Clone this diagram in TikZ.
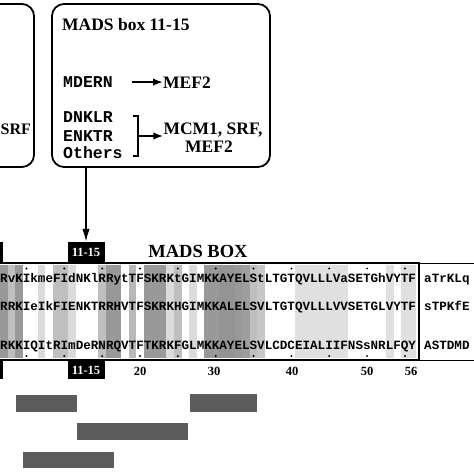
\documentclass[tikz,border=0pt]{standalone}
\usepackage{fontspec}
\setmainfont{Liberation Serif}
\setmonofont{Liberation Mono}
\usetikzlibrary{arrows.meta}
\begin{document}
\begin{tikzpicture}[x=1pt,y=-1pt,
  roundbox/.style={draw, line width=1.8pt, rounded corners=12pt, inner sep=0pt},
  titlefont/.style={font=\fontsize{17.5}{18}\selectfont\bfseries, inner sep=0pt},
  monolabel/.style={font=\fontsize{16.5}{17}\selectfont\ttfamily\bfseries, inner sep=0pt, anchor=base west},
  seqrow/.style={font=\fontsize{12.6}{13}\selectfont\ttfamily\bfseries, inner sep=0pt, anchor=base west},
  blackbox/.style={fill=black, text=white, font=\fontsize{12.5}{12.5}\selectfont\bfseries, inner sep=0pt, minimum width=37pt},
  numlabel/.style={font=\fontsize{12.5}{13}\selectfont\bfseries, inner sep=0pt},
  arr/.style={line width=1.8pt, -{Latex[length=10pt,width=7.5pt]}},
  bar/.style={fill=black!64}]
\useasboundingbox (0,0) rectangle (474,474);
\clip (0,0) rectangle (474,474);
% top boxes
\node[roundbox, minimum width=80pt, minimum height=163pt] (leftbox) at (-6,85.5) {};
\node[font=\fontsize{16}{17}\selectfont\bfseries, inner sep=0pt, anchor=base west] (srf) at (0.5,134) {SRF};
\node[roundbox, minimum width=218pt, minimum height=163pt] (mainbox) at (161,85.5) {};
\node[titlefont, anchor=base west] (title) at (62,30.5) {MADS box 11-15};
\node[monolabel] (mdern) at (63,87.5) {MDERN};
\node[titlefont, anchor=base west] (mefA) at (163,88) {MEF2};
\node[monolabel] (dnklr) at (63,122.5) {DNKLR};
\node[monolabel] (enktr) at (63,141) {ENKTR};
\node[monolabel] (others) at (63,158.5) {Others};
\node[titlefont, anchor=base] (mcmA) at (213,134) {MCM1, SRF,};
\node[titlefont, anchor=base] (mcmB) at (209,152.5) {MEF2};
\draw[arr] ([xshift=19pt]mdern.east) coordinate (mdA) -- (mdA -| mefA.west);
\coordinate (bt) at (138,116);
\coordinate (bb) at (138,156);
\coordinate (bm) at (138,136);
\draw[line width=1.6pt] ([xshift=-5pt]bt) -- (bt) -- (bb) -- ([xshift=-5pt]bb);
\draw[arr] (bm) -- (bm -| mcmA.west);
% alignment shading
\foreach \r/\s in {1/40,2/40,3/25,4/40,7/14,9/25,10/25,11/14,15/25,16/40,17/40,19/28,21/40,22/40,23/40,24/14,25/25,27/14,29/40,30/40,31/42,32/42,33/40,34/38,35/25,36/22,41/12,42/12,43/12,44/12,45/12,46/12,47/12,53/12,55/12,56/12}
  \fill[black!\s] ({7.57*\r-15.2},265) rectangle ({7.57*\r-7.6},358);
% MADS box frame
\node[blackbox, minimum height=21pt] (topbox) at (86,252.5) {11-15};
\node[blackbox, minimum height=18pt] (botbox) at (86,370) {11-15};
\fill (0,242) rectangle (3,263);
\fill (0,361) rectangle (3,379);
\node[font=\fontsize{18.5}{19}\selectfont\bfseries, inner sep=0pt] (madsbox) at (198,251) {MADS BOX};
\draw[line width=2.5pt] (-5,263) rectangle (419,360);
\draw[line width=0.9pt] (419,263) -- (480,263);
\draw[line width=0.9pt] (419,360) -- (480,360);
\draw[line width=1.6pt, -{Latex[length=13pt,width=7.5pt]}] (topbox.north |- mainbox.south) -- (topbox.north);
% dots
\foreach \r in {5,10,...,55} {
  \fill ({7.57*\r-11.4},268.5) circle (1.1);
  \fill ({7.57*\r-11.4},356) circle (1.1);
}
% sequences
\node[seqrow] (s1) at (0,282) {RvKIkmeFIdNKlRRytTFSKRKtGIMKKAYELStLTGTQVLLLVaSETGhVYTF};
\node[seqrow] (s2) at (0,310) {RRKIeIkFIENKTRRHVTFSKRKHGIMKKALELSVLTGTQVLLLVVSETGLVYTF};
\node[seqrow] (s3) at (0,349) {RKKIQItRImDeRNRQVTFTKRKFGLMKKAYELSVLCDCEIALIIFNSsNRLFQY};
\node[seqrow] (t1) at (424,282) {aTrKLq};
\node[seqrow] (t2) at (424,310) {sTPKfE};
\node[seqrow] (t3) at (424,349) {ASTDMD};
% numbers
\node[numlabel] (n20) at (140,371) {20};
\node[numlabel] (n30) at (214,371) {30};
\node[numlabel] (n40) at (292,371) {40};
\node[numlabel] (n50) at (367,371) {50};
\node[numlabel] (n56) at (411,371) {56};
% bars
\fill[bar] (16,395) rectangle (77,412);
\fill[bar] (190,394) rectangle (257,412);
\fill[bar] (77,423) rectangle (188,440);
\fill[bar] (23,452) rectangle (114,468);
\end{tikzpicture}
\end{document}
